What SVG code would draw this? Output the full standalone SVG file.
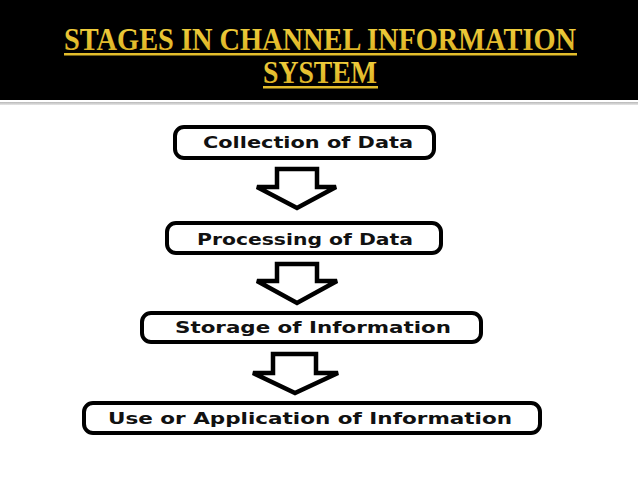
<svg xmlns="http://www.w3.org/2000/svg" width="638" height="479" viewBox="0 0 638 479">
<defs>
<linearGradient id="gold" x1="0" y1="0" x2="0" y2="1">
<stop offset="0" stop-color="#f3d443"/>
<stop offset="1" stop-color="#d9ad1f"/>
</linearGradient>
<linearGradient id="shade" x1="0" y1="0" x2="0" y2="1">
<stop offset="0" stop-color="#b8b8b8"/>
<stop offset="1" stop-color="#e6e6e6"/>
</linearGradient>
</defs>
<style>
.title{font-family:"Liberation Serif","Times New Roman",serif;font-weight:bold;font-size:32px;fill:url(#gold)}
.box{fill:#fff;stroke:#000;stroke-width:4}
.lbl{font-family:"DejaVu Sans","Liberation Sans",sans-serif;font-weight:bold;font-size:16.5px;fill:#111;text-anchor:middle}
.arrow{fill:#fff;stroke:#000;stroke-width:4.5;stroke-linejoin:miter}
</style>
<rect x="0" y="0" width="638" height="479" fill="#fff"/>
<g id="header">
<rect x="0" y="0" width="638" height="100" fill="#000"/>
<rect x="0" y="102" width="638" height="3" fill="url(#shade)"/>
<text class="title" x="320" y="50" text-anchor="middle" textLength="512" lengthAdjust="spacingAndGlyphs">STAGES IN CHANNEL INFORMATION</text>
<rect x="64" y="53" width="513" height="2.5" fill="#e3bd2c"/>
<text class="title" x="320" y="83" text-anchor="middle" textLength="114" lengthAdjust="spacingAndGlyphs">SYSTEM</text>
<rect x="263" y="86" width="115" height="2.5" fill="#e3bd2c"/>
</g>
<g id="node-collection">
<rect class="box" x="175" y="127" width="259" height="31" rx="9"/>
<text class="lbl" x="308" y="148" textLength="210" lengthAdjust="spacingAndGlyphs">Collection of Data</text>
</g>
<g id="node-processing">
<rect class="box" x="167" y="223" width="274" height="30" rx="9"/>
<text class="lbl" x="305" y="245" textLength="216" lengthAdjust="spacingAndGlyphs">Processing of Data</text>
</g>
<g id="node-storage">
<rect class="box" x="142" y="313" width="339" height="29" rx="9"/>
<text class="lbl" x="313" y="333" textLength="276" lengthAdjust="spacingAndGlyphs">Storage of Information</text>
</g>
<g id="node-use">
<rect class="box" x="84" y="403" width="456" height="30" rx="9"/>
<text class="lbl" x="310" y="424" textLength="404" lengthAdjust="spacingAndGlyphs">Use or Application of Information</text>
</g>
<g id="connectors">
<path class="arrow" d="M277 169 L317 169 L317 187 L336 187 L297 208 L257 187 L277 187 Z"/>
<path class="arrow" d="M277 264 L317 264 L317 281 L337 281 L297 303 L257 281 L277 281 Z"/>
<path class="arrow" d="M273 354 L316 354 L316 373 L338 373 L295 393 L253 373 L273 373 Z"/>
</g>
</svg>
